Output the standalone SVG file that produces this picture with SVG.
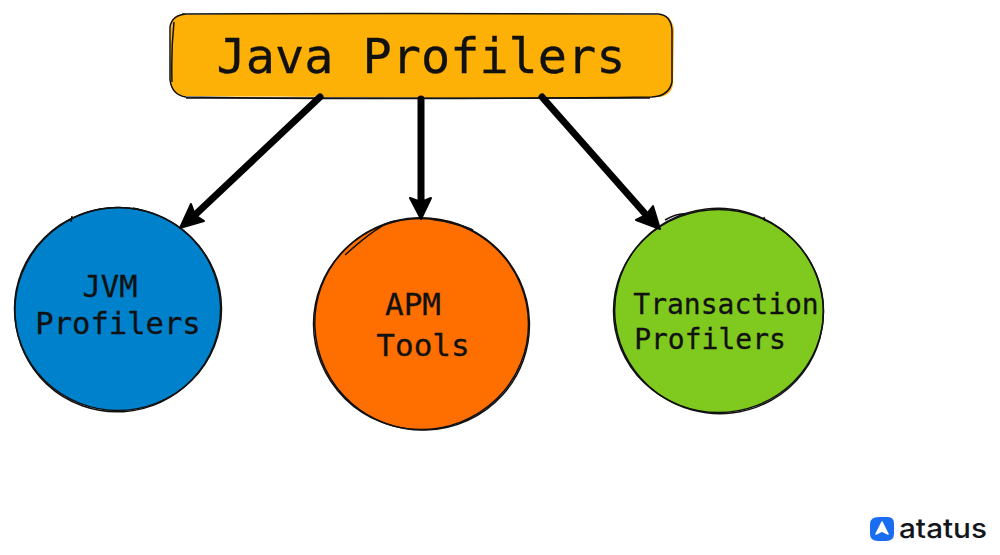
<svg xmlns="http://www.w3.org/2000/svg" width="1000" height="555" viewBox="0 0 1000 555">
<style>
.sk{fill:none;stroke:#111;stroke-width:1.5}
.t{font-family:"DejaVu Sans Mono","Liberation Mono",monospace;fill:#111;stroke:#111;stroke-width:.3}
.c{fill:none;stroke:#000;stroke-width:7;stroke-linecap:round}
.h{fill:#000;stroke:#000;stroke-width:2;stroke-linejoin:round}
</style>
<rect width="1000" height="555" fill="#fff"/>
<g id="root">
<path d="M178 15C300 12 560 14 662 15Q672 16 674 30L673 85Q670 98 655 97C500 99 300 97 185 96Q171 96 170 80L171 28Q172 16 178 15Z" fill="#fdb006"/>
<path class="sk" d="M182 14C300 13 560 14 658 14Q671 15 672 30L672 82Q669 96 652 97C500 99 300 99 186 97Q172 95 170 80L170 27Q172 15 186 14"/>
<path class="sk" d="M174 22Q171 50 172 82M186 98C300 97 500 99 650 98"/>
<text class="t" x="421" y="73" font-size="48.5" text-anchor="middle">Java Profilers</text>
</g>
<g id="jvm">
<ellipse cx="118" cy="309" rx="103" ry="102" fill="#0081cc"/>
<ellipse class="sk" cx="118" cy="309" rx="103.5" ry="101.5"/>
<ellipse class="sk" cx="117.5" cy="309.5" rx="103" ry="102" transform="rotate(-25 118 309)"/>
<path class="sk" d="M72 216L71 222M133 208L145 211"/>
<text class="t" x="110" y="297" font-size="30.5" text-anchor="middle">JVM</text>
<text class="t" x="118" y="334" font-size="30.5" text-anchor="middle">Profilers</text>
</g>
<g id="apm">
<ellipse cx="421.5" cy="323.5" rx="107.5" ry="106" fill="#ff6f00"/>
<ellipse class="sk" cx="421" cy="324" rx="107.5" ry="105.5"/>
<ellipse class="sk" cx="422" cy="323.5" rx="107.5" ry="106" transform="rotate(20 421 324)"/>
<path class="sk" d="M345 255C365 237 385 222 395 221M430 219C450 222 465 226 473 230"/>
<text class="t" x="413" y="315" font-size="31" text-anchor="middle">APM</text>
<text class="t" x="423" y="356" font-size="31" text-anchor="middle">Tools</text>
</g>
<g id="tx">
<ellipse cx="718.5" cy="311" rx="105" ry="102" fill="#80c91f"/>
<ellipse class="sk" cx="718.5" cy="311" rx="105" ry="101.5"/>
<ellipse class="sk" cx="719" cy="311" rx="104.5" ry="102.5" transform="rotate(15 719 311)"/>
<path class="sk" d="M665 220C674 215 681 213 686 214M764 217L765 221"/>
<text class="t" x="726" y="314" font-size="28" text-anchor="middle">Transaction</text>
<text class="t" x="710" y="349" font-size="28" text-anchor="middle">Profilers</text>
</g>
<g id="connectors">
<path class="c" d="M320 97L196 214"/>
<path class="h" d="M191 204L180 228L204 221L195 215Z"/>
<path class="c" d="M421 99L421 200"/>
<path class="h" d="M410 198L421 202L431 198L421 219Z"/>
<path class="c" d="M542 97L648 217"/>
<path class="h" d="M653 206L660 229L636 220L646 215Z"/>
</g>
<g id="logo">
<path d="M879 517H888Q894 517 894 524V534Q894 541 886 541H878Q870 541 870 534V524Q870 517 879 517Z" fill="#1a6cf0"/>
<path d="M882 522L888 534L882 531L876 534Z" fill="#fff" stroke="#fff" stroke-width="1.5" stroke-linejoin="round"/>
<text x="899" y="538" font-family="Inter,'Liberation Sans',sans-serif" font-size="27" font-weight="500" fill="#14161c" textLength="88" lengthAdjust="spacingAndGlyphs">atatus</text>
</g>
</svg>
